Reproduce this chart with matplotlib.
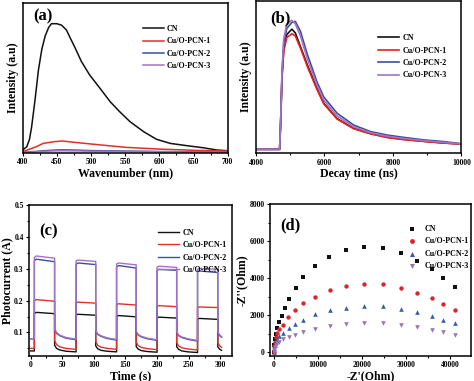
import matplotlib
matplotlib.use("Agg")
import matplotlib.pyplot as plt
from matplotlib.ticker import MultipleLocator

plt.rcParams['font.family'] = ['Liberation Serif', 'DejaVu Serif']
plt.rcParams['font.weight'] = 'bold'

labels = ['CN', 'Cu/O-PCN-1', 'Cu/O-PCN-2', 'Cu/O-PCN-3']
line_colors = ['#111111', '#e0302c', '#3b4f9e', '#a472c4']

# (a) PL spectra
wl_cn = [400, 406, 410, 413, 418, 423, 428, 433, 438, 442, 450, 457, 464, 469, 477, 486, 498, 513, 528, 542, 557, 577, 596, 616, 640, 664, 684, 700]
pl_cn = [1.8, 4, 9, 17, 35, 55, 69, 78, 83.5, 86, 86, 85, 81.8, 77, 69.6, 60.7, 51.8, 43, 34, 27.3, 20.7, 14, 8.9, 6.2, 4.7, 3.3, 1.8, 1.3]
wl_s = [400, 420, 430, 445, 458, 480, 500, 550, 600, 650, 700]
pl_1 = [0.7, 4.0, 6.2, 7.3, 7.8, 6.7, 5.8, 3.6, 2.4, 1.6, 1.1]
pl_2 = [0.3, 0.9, 1.3, 1.7, 1.9, 1.7, 1.4, 1.1, 0.8, 0.6, 0.5]
pl_3 = [0.2, 0.6, 0.9, 1.2, 1.3, 1.2, 1.0, 0.8, 0.6, 0.4, 0.3]

# (b) decay curves
t_cn = [4000, 4690, 4720, 4760, 4810, 4900, 5050, 5150, 5300, 5500, 5780, 5980, 6370, 6850, 7340, 7830, 8300, 8900, 9480, 10000]
d_cn = [2.6, 2.6, 20, 50, 68, 78, 81.5, 79, 70, 58, 42.8, 32.9, 22.8, 16.4, 13, 10.5, 9.2, 7.9, 6.8, 6.1]
d_1 = [2.6, 2.6, 20, 50, 67, 76, 78.5, 77, 69, 57, 42, 32.5, 22.5, 16.2, 12.8, 10.4, 9.0, 7.8, 6.7, 6.0]
d_2 = [2.6, 2.6, 20, 52, 72, 82, 86, 86.6, 80, 65, 47, 37, 26.3, 18.6, 14.3, 12, 10.5, 8.8, 7.7, 6.3]
d_3 = [2.6, 2.6, 21, 54, 75, 85, 87.3, 85, 77, 62, 45, 35, 24.5, 17.5, 13.6, 11.2, 9.8, 8.3, 7.2, 6.2]

# (c) photocurrent
t_pc = [0, 6, 6, 9, 38, 38, 41, 46, 56, 72, 72, 75, 103, 103, 106, 111, 121, 136, 136, 139, 167, 167, 170, 175, 185,
        200, 200, 203, 231, 231, 234, 239, 249, 264, 264, 267, 296, 296, 299, 302]
pc_cn = [0.042, 0.042, 0.16, 0.163, 0.159, 0.06, 0.05, 0.045, 0.041, 0.039, 0.155, 0.157, 0.154, 0.058, 0.049, 0.044, 0.041, 0.039, 0.151,
         0.153, 0.149, 0.056, 0.048, 0.043, 0.04, 0.038, 0.146, 0.148, 0.145, 0.055, 0.047, 0.042, 0.039, 0.037, 0.142, 0.144, 0.141, 0.055, 0.047, 0.044]
pc_1 = [0.05, 0.05, 0.2, 0.203, 0.198, 0.075, 0.062, 0.055, 0.05, 0.047, 0.193, 0.195, 0.192, 0.072, 0.06, 0.054, 0.05, 0.047, 0.188,
        0.19, 0.186, 0.07, 0.059, 0.053, 0.049, 0.046, 0.182, 0.184, 0.181, 0.068, 0.058, 0.052, 0.048, 0.045, 0.178, 0.18, 0.178, 0.068, 0.058, 0.053]
pc_2 = [0.08, 0.08, 0.325, 0.33, 0.322, 0.11, 0.097, 0.09, 0.082, 0.077, 0.314, 0.318, 0.313, 0.105, 0.094, 0.088, 0.081, 0.076, 0.305,
        0.31, 0.302, 0.102, 0.092, 0.086, 0.08, 0.075, 0.295, 0.298, 0.295, 0.1, 0.09, 0.084, 0.078, 0.073, 0.29, 0.293, 0.288, 0.1, 0.09, 0.085]
pc_3 = [0.08, 0.08, 0.335, 0.34, 0.333, 0.112, 0.1, 0.092, 0.084, 0.079, 0.325, 0.327, 0.323, 0.107, 0.096, 0.09, 0.083, 0.078, 0.315,
        0.318, 0.312, 0.104, 0.094, 0.088, 0.082, 0.077, 0.305, 0.308, 0.304, 0.102, 0.092, 0.086, 0.08, 0.075, 0.298, 0.301, 0.298, 0.102, 0.092, 0.087]

# (d) Nyquist plots
zr_cn = [0, 150, 300, 500, 800, 1200, 1900, 2600, 3500, 5000, 6700, 9400, 12500, 16400, 20500, 24700, 28800, 32400, 35800, 38400, 41200]
zi_cn = [0, 400, 700, 1000, 1300, 1600, 1960, 2370, 2880, 3450, 4030, 4650, 5160, 5500, 5660, 5610, 5370, 4940, 4480, 3990, 3510]
zr_1 = [0, 150, 300, 500, 800, 1300, 2200, 3300, 4800, 6700, 9400, 12700, 16400, 20500, 24700, 28800, 32400, 35800, 38400, 41200]
zi_1 = [0, 300, 550, 800, 1050, 1250, 1480, 1890, 2250, 2640, 3000, 3330, 3590, 3700, 3650, 3450, 3180, 2910, 2610, 2280]
zr_2 = [0, 150, 300, 500, 800, 1300, 2200, 3400, 4800, 6700, 9400, 12700, 16400, 20500, 24700, 28800, 32400, 35800, 38400, 41200]
zi_2 = [0, 200, 380, 540, 700, 850, 1030, 1280, 1490, 1740, 2030, 2250, 2390, 2480, 2460, 2340, 2140, 1960, 1740, 1570]
zr_3 = [0, 150, 300, 500, 800, 1300, 2200, 3400, 4800, 6700, 9400, 12700, 16400, 20500, 24700, 28800, 32400, 35800, 38400, 41200]
zi_3 = [0, 130, 250, 360, 470, 560, 680, 790, 930, 1060, 1240, 1420, 1510, 1580, 1560, 1470, 1350, 1200, 1060, 930]

W, H = 474, 381
fig = plt.figure(figsize=(W / 100, H / 100), dpi=100)


def axbox(l, r, t, b):
    return fig.add_axes([l / W, 1 - b / H, (r - l) / W, (b - t) / H])


def style(ax):
    for s in ax.spines.values():
        s.set_linewidth(1.1)
    ax.tick_params(which='both', direction='out', labelsize=5.5, width=0.8, top=False, right=False, pad=1.5)
    ax.tick_params(which='major', length=2.5)
    ax.tick_params(which='minor', length=1.5)
    for lab in ax.get_xticklabels() + ax.get_yticklabels():
        lab.set_fontweight('bold')


lab_font = dict(fontsize=8.5, fontweight='bold')
leg_font = dict(size=5.8, weight='bold')

# ---------- (a)
ax = axbox(22.7, 227.7, 2.7, 152.7)
ax.plot(wl_cn, pl_cn, color=line_colors[0], lw=1.1, label=labels[0])
ax.plot(wl_s, pl_1, color=line_colors[1], lw=1.1, label=labels[1])
ax.plot(wl_s, pl_2, color=line_colors[2], lw=1.1, label=labels[2])
ax.plot(wl_s, pl_3, color=line_colors[3], lw=1.1, label=labels[3])
ax.set_xlim(400, 700)
ax.set_ylim(0, 100)
ax.set_yticks([])
ax.xaxis.set_major_locator(MultipleLocator(50))
ax.xaxis.set_minor_locator(MultipleLocator(25))
style(ax)
ax.set_xlabel('Wavenumber (nm)', labelpad=0.5, **lab_font)
ax.set_ylabel('Intensity (a.u)', labelpad=3, **lab_font)
ax.text(0.05, 0.88, '(a)', transform=ax.transAxes, fontsize=12, fontweight='bold')
ax.legend(loc='upper left', bbox_to_anchor=(0.55, 0.9), frameon=False, prop=leg_font,
          handlelength=2.6, labelspacing=0.55, handletextpad=0.4)

# ---------- (b)
ax = axbox(256, 461.3, 1, 153.3)
ax.plot(t_cn, d_cn, color=line_colors[0], lw=1.2, label=labels[0])
ax.plot(t_cn, d_1, color='#e8201c', lw=1.2, label=labels[1])
ax.plot(t_cn, d_2, color=line_colors[2], lw=1.2, label=labels[2])
ax.plot(t_cn, d_3, color=line_colors[3], lw=1.2, label=labels[3])
ax.set_xlim(4000, 10000)
ax.set_ylim(0, 100)
ax.set_yticks([])
ax.xaxis.set_major_locator(MultipleLocator(2000))
ax.xaxis.set_minor_locator(MultipleLocator(1000))
style(ax)
ax.set_xlabel('Decay time (ns)', labelpad=0.5, **lab_font)
ax.set_ylabel('Intensity (a.u)', labelpad=3, **lab_font)
ax.text(0.07, 0.86, '(b)', transform=ax.transAxes, fontsize=12, fontweight='bold')
ax.legend(loc='upper left', bbox_to_anchor=(0.56, 0.83), frameon=False, prop=leg_font,
          handlelength=2.6, labelspacing=0.55, handletextpad=0.4)

# ---------- (c)
ax = axbox(29.3, 231.7, 205, 355.7)
for vals, c, lab in zip([pc_cn, pc_1, pc_2, pc_3], line_colors, labels):
    ax.plot(t_pc, vals, color=c, lw=1.0, label=lab)
ax.set_xlim(-2, 318)
ax.set_ylim(0.027, 0.5)
ax.xaxis.set_major_locator(MultipleLocator(50))
ax.xaxis.set_minor_locator(MultipleLocator(25))
ax.yaxis.set_major_locator(MultipleLocator(0.1))
ax.yaxis.set_minor_locator(MultipleLocator(0.05))
style(ax)
ax.set_xlabel('Time (s)', labelpad=0.5, **lab_font)
ax.set_ylabel('Photocurrent (A)', labelpad=1, **lab_font)
ax.text(0.05, 0.8, '(c)', transform=ax.transAxes, fontsize=12, fontweight='bold')
ax.legend(loc='upper left', bbox_to_anchor=(0.6, 0.89), frameon=False, prop=leg_font,
          handlelength=2.6, labelspacing=0.55, handletextpad=0.4)

# ---------- (d)
ax = axbox(270.3, 471.3, 204, 355.7)
ax.scatter(zr_cn, zi_cn, marker='s', s=8, color='#111111', label=labels[0], linewidths=0)
ax.scatter(zr_1, zi_1, marker='o', s=10, color='#d9262a', label=labels[1], linewidths=0)
ax.scatter(zr_2, zi_2, marker='^', s=11, color='#3a5aa8', label=labels[2], linewidths=0)
ax.scatter(zr_3, zi_3, marker='v', s=11, color='#9a72b8', label=labels[3], linewidths=0)
ax.set_xlim(-750, 44800)
ax.set_ylim(-200, 8000)
ax.xaxis.set_major_locator(MultipleLocator(10000))
ax.xaxis.set_minor_locator(MultipleLocator(5000))
ax.yaxis.set_major_locator(MultipleLocator(2000))
ax.yaxis.set_minor_locator(MultipleLocator(1000))
style(ax)
ax.set_xlabel("-Z'(Ohm)", labelpad=0.5, **lab_font)
ax.set_ylabel("-Z''(Ohm)", labelpad=1, **lab_font)
ax.text(0.05, 0.83, '(d)', transform=ax.transAxes, fontsize=12, fontweight='bold')
ax.legend(loc='upper left', bbox_to_anchor=(0.63, 0.91), frameon=False, prop=leg_font,
          handletextpad=0.5, labelspacing=0.55, markerscale=1.1)

fig.savefig('out.png', dpi=100)
